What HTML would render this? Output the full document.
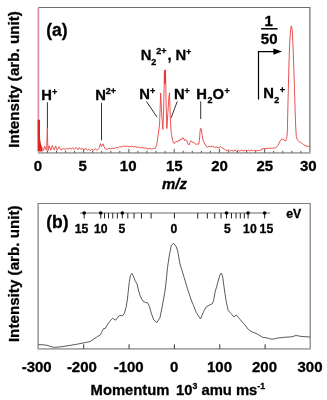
<!DOCTYPE html>
<html><head><meta charset="utf-8"><style>
html,body{margin:0;padding:0;background:#fff;}
body{width:327px;height:400px;overflow:hidden;}
svg{display:block;}
text{font-family:"Liberation Sans",Arial,sans-serif;font-weight:bold;fill:#000;stroke:#000;stroke-width:0.3px;}
</style></head><body>
<svg width="327" height="400" viewBox="0 0 327 400">
<rect width="327" height="400" fill="#fff"/>
<!-- top panel -->
<path d="M38.4 7.5 H309.9 V152.8" fill="none" stroke="#6e6e6e" stroke-width="1.2"/>
<path d="M37.8 152.8 H310.5" fill="none" stroke="#a8a8a8" stroke-width="1.7"/>
<path d="M47.45 152.8 V150.8 M56.5 152.8 V150.8 M65.55 152.8 V150.8 M74.6 152.8 V150.8 M83.65 152.8 V148.8 M92.7 152.8 V150.8 M101.75 152.8 V150.8 M110.8 152.8 V150.8 M119.85 152.8 V150.8 M128.9 152.8 V148.8 M137.95 152.8 V150.8 M147 152.8 V150.8 M156.05 152.8 V150.8 M165.1 152.8 V150.8 M174.15 152.8 V148.8 M183.2 152.8 V150.8 M192.25 152.8 V150.8 M201.3 152.8 V150.8 M210.35 152.8 V150.8 M219.4 152.8 V148.8 M228.45 152.8 V150.8 M237.5 152.8 V150.8 M246.55 152.8 V150.8 M255.6 152.8 V150.8 M264.65 152.8 V148.8 M273.7 152.8 V150.8 M282.75 152.8 V150.8 M291.8 152.8 V150.8 M300.85 152.8 V150.8" stroke="#555" stroke-width="1" fill="none"/>
<g stroke="#333" stroke-width="1" fill="none">
<path d="M47.4 102.2 V128.5"/>
<path d="M101.5 102.8 V140.3"/>
<path d="M146.4 101.4 L157.1 117.2"/>
<path d="M177.3 101.4 L171.1 117.9"/>
<path d="M200.7 101.4 V119"/>
</g>
<path d="M258.5 99.5 V51.6 H276" stroke="#000" stroke-width="1.2" fill="none"/>
<path d="M273.4 48.5 L282 51.6 L273.4 54.7 Z" fill="#000"/>
<path d="M261.1 28.8 H277.6" stroke="#000" stroke-width="1.5"/>
<line x1="38.4" y1="7.5" x2="38.4" y2="151" stroke="#d68a9c" stroke-width="1.6"/>
<path d="M37.6 119.8 H40 V139 L41.2 145 L42.4 147.5 V151.5 H37.7 Z" fill="#e02424"/>
<path d="M40.5 151 L41.5 148 L42.5 150.5 L43.5 150.2 L44.6 146 L45.8 149.5 L46.6 150.2 L47 140 L47.3 128.5 L47.6 140 L48.1 150.5 L49.2 145.8 L50.8 150.3 L52.3 145.6 L54.2 149.9 L55.7 146 L57.3 150.3 L59.2 146.6 L60.7 149.7 L62 149.77 L63.4 148.13 L64.74 149.74 L66.31 148.4 L68 149.06 L69.62 148.13 L70.98 149.15 L72.92 147.82 L74.38 149.12 L76.41 147.6 L78.01 149.78 L79.33 147.65 L80.84 149.37 L82.22 148.4 L84.15 149.73 L85.89 148.49 L87.47 150.37 L88.8 149.27 L90.25 150.73 L91.87 149.13 L93.62 150.45 L95.14 148.64 L96.98 150.19 L98.72 148.74 L99.4 147.5 L100.4 143.6 L101.5 146.6 L102.2 145.5 L103 143.8 L104.2 147 L105.5 149 L107.5 149.31 L109.1 148.12 L110.57 148.97 L112.57 148.23 L114.34 148.54 L116.27 147.46 L118.12 148.02 L119.75 146.57 L121.61 146.97 L123.36 145.88 L125.52 146.66 L127.45 146.03 L129.4 146.83 L131.61 146.01 L133.21 146.99 L135.14 146.6 L136.89 147.27 L138.35 147.02 L140.36 147.74 L141.93 147.38 L144.03 148.22 L145.78 147.82 L147.89 148.96 L149.98 148.33 L151.69 149.12 L153.8 148.4 L155.4 148.2 L156.8 144.5 L158.2 135 L159.6 124 L160.2 106 L160.7 93 L161.3 106 L161.9 117 L162.9 129.4 L163.7 108 L164.2 85 L164.4 72.5 L164.9 70.2 L165.5 72.5 L165.8 85 L166.2 108 L166.9 128.5 L167.9 112 L168.9 97 L169.5 92.8 L169.9 105 L170.3 118 L170.9 129 L171.5 134.5 L172.4 139.5 L173.3 142.5 L174.3 143.7 L175.3 142 L176.1 141.3 L177.3 142 L178.6 140.1 L179.5 141 L180.4 138.9 L181.6 139.5 L182.8 137.6 L183.8 139 L184.7 140.7 L185.6 139.5 L186.5 140.1 L187.8 143.5 L189 145 L190.2 142 L191.4 140.7 L192.6 142.5 L193.9 142.5 L195.2 144 L196.3 144.4 L197.5 143.8 L198.7 144.4 L199.5 139 L200.1 131 L200.6 128.5 L201.1 128.6 L201.6 131 L202.2 135.5 L202.8 139 L203.8 142 L204.9 144.4 L206 146.2 L207.3 147.4 L208.8 146.2 L210.5 146.8 L212.5 146.2 L214.6 147.4 L216.5 147 L218.8 148.1 L220.4 146.3 L221.6 147.5 L222.9 148.1 L224.2 149.2 L225.6 149.9 L227 150.6 L228.47 150.09 L230.13 151.03 L231.62 150.43 L233.24 151.16 L234.97 150.22 L236.8 151.29 L238.58 150.22 L239.9 151.35 L241.81 149.99 L243.72 150.95 L245.32 150.24 L247.11 150.74 L248.44 150.19 L249.85 150.88 L251.18 150.29 L252.58 150.76 L254.15 150.28 L256.13 151.01 L257.53 150.17 L259.08 150.89 L260.46 149.87 L261.4 150.3 L262.2 148.6 L265 148.8 L268.5 148.3 L272.5 148.2 L275.3 147.9 L276.8 146.8 L278 145.1 L279.2 143 L280.1 141 L281 139.6 L281.9 138.9 L283 139.3 L284.2 139.9 L285 141 L285.6 140.8 L286.4 138.8 L287 136.5 L287.4 130 L287.8 110 L288.3 90 L288.9 65 L289.6 45 L290.4 32 L291 27 L291.4 25.8 L291.8 27 L292.4 33 L293.1 48 L293.8 68 L294.5 90 L295.1 110 L295.6 125 L296.3 136.5 L297.2 139.5 L298.5 141.2 L300.5 142.3 L302 143.5 L303.6 144.6 L305 145.5 L306.8 146.2 L308.3 146.5 L309.3 146.2 L309.8 145.8" stroke="#e63f40" stroke-width="0.9" fill="none" stroke-linejoin="round"/>
<path d="M164.95 70.6 V83" stroke="#e02a2a" stroke-width="1.6" stroke-linecap="round"/>
<text x="46.2" y="35.7" font-size="17.5">(a)</text>
<text x="41.36" y="99.7" font-size="14.8">H</text>
<text x="52" y="94.6" font-size="9">+</text>
<text x="95.36" y="100" font-size="14.8">N</text>
<text x="105.7" y="93.5" font-size="9">2+</text>
<text x="140.66" y="59.8" font-size="14.8">N</text>
<text x="151.3" y="64.8" font-size="9">2</text>
<text x="156.2" y="54.2" font-size="9">2+</text>
<text x="167.4" y="59.8" font-size="14.8">, N</text>
<text x="186" y="55" font-size="9">+</text>
<text x="139.36" y="99.4" font-size="14.8">N</text>
<text x="149.9" y="94.2" font-size="9">+</text>
<text x="173.96" y="99.4" font-size="14.8">N</text>
<text x="184.6" y="94.2" font-size="9">+</text>
<text x="196.36" y="98.8" font-size="14.8">H</text>
<text x="207.4" y="102.5" font-size="9">2</text>
<text x="212.5" y="98.8" font-size="14.8">O</text>
<text x="224.5" y="93.6" font-size="9">+</text>
<text x="263.36" y="98.2" font-size="14.8">N</text>
<text x="274.2" y="102.6" font-size="9">2</text>
<text x="279.8" y="92.5" font-size="9">+</text>
<text x="268.6" y="25.6" font-size="15" text-anchor="middle">1</text>
<text x="269.2" y="44.4" font-size="15" text-anchor="middle">50</text>
<text x="38" y="170.8" font-size="15" text-anchor="middle">0</text>
<text x="82.6" y="170.8" font-size="15" text-anchor="middle">5</text>
<text x="128.2" y="170.8" font-size="15" text-anchor="middle">10</text>
<text x="174.3" y="170.8" font-size="15" text-anchor="middle">15</text>
<text x="219.6" y="170.8" font-size="15" text-anchor="middle">20</text>
<text x="264.8" y="170.8" font-size="15" text-anchor="middle">25</text>
<text x="308.3" y="170.8" font-size="15" text-anchor="middle">30</text>
<text x="174.4" y="188.8" font-size="15" text-anchor="middle" font-style="italic">m/z</text>
<text transform="translate(18.7 147.8) rotate(-90)" font-size="15.2">Intensity (arb. unit)</text>
<!-- bottom panel -->
<path d="M38.1 348.8 V203.5 H310.2 V348.8" fill="none" stroke="#7c7c7c" stroke-width="1.2"/>
<path d="M37.5 348.8 H310.8" fill="none" stroke="#a8a8a8" stroke-width="1.7"/>
<path d="M83.7 348.8 V344.3 M129.05 348.8 V344.3 M174.4 348.8 V344.3 M219.75 348.8 V344.3 M265.1 348.8 V344.3" stroke="#333" stroke-width="1" fill="none"/>
<path d="M79.9 213.0 H270.2" stroke="#6a6a6a" stroke-width="1.2"/>
<path d="M151.1 213 V218.5 M141.45 213 V218.5 M134.04 213 V218.5 M127.8 213 V218.5 M122.3 213 V218.5 M117.33 213 V218.5 M112.75 213 V218.5 M108.5 213 V218.5 M104.5 213 V218.5 M100.72 213 V218.5 M84.16 213 V218.5 M197.7 213 V218.5 M207.35 213 V218.5 M214.76 213 V218.5 M221 213 V218.5 M226.5 213 V218.5 M231.47 213 V218.5 M236.05 213 V218.5 M240.3 213 V218.5 M244.3 213 V218.5 M248.08 213 V218.5 M264.64 213 V218.5 M174.4 213 V218.5" stroke="#222" stroke-width="1" fill="none"/>
<g fill="#000"><circle cx="122.3" cy="213" r="1.8"/><circle cx="100.72" cy="213" r="1.8"/><circle cx="84.16" cy="213" r="1.8"/><circle cx="226.5" cy="213" r="1.8"/><circle cx="248.08" cy="213" r="1.8"/><circle cx="264.64" cy="213" r="1.8"/></g>
<path d="M38.4 344.6 L43 344.8 L47 345.3 L50.5 346.5 L54.3 347.4 L58 347.1 L62 346.6 L69 345.6 L76.4 344.3 L83.7 342.9 L90 341.6 L93.7 339.1 L97.3 336.7 L100.4 334.9 L102.2 331.2 L103.5 328.7 L105.3 328.4 L107.1 325.1 L109.6 321.4 L112.6 318.3 L115.7 320.2 L119.4 315.3 L122.4 315.9 L124.3 313.5 L126.1 307.3 L127.3 300 L128.1 293 L129.2 282.5 L130.5 275.4 L131.9 273.4 L133.1 275.4 L135 280.4 L136.9 283.75 L138.75 291.25 L140.6 296.9 L143.1 301.25 L145.4 302.5 L147.4 302.6 L149.4 306.25 L151.25 313.1 L153.75 320 L156.9 322.5 L160 317.5 L162.5 305 L164.75 292.5 L166.1 282 L167.5 267.5 L169.4 255 L171.25 245.6 L173.1 243.4 L174.8 244.6 L176.25 246.9 L177.75 251.25 L180 264 L183.75 276.25 L187.5 288.75 L191.25 300 L193.5 305.5 L196.25 312.5 L198.5 316 L200.6 319 L202.2 315 L203.75 311.25 L206.25 306.9 L210 304.75 L212.4 303.6 L213.6 300.5 L215 292.5 L218.1 281.25 L220 275 L221.25 273.1 L222.5 275.6 L223.75 285 L225 293.75 L226.4 302.5 L228.25 310.6 L230.75 313.1 L233.9 316.9 L236.4 315 L239.5 318.75 L242.6 322.5 L245.1 325 L248.25 329.4 L252 331.9 L255 333 L258.4 334.7 L262.7 337.3 L267.8 338.1 L272.1 339.3 L277.3 338.1 L284.1 337.3 L291 336.9 L296.1 335.5 L301.2 336.4 L308.1 336.9 L310 337" stroke="#3c3c3c" stroke-width="0.85" fill="none" stroke-linejoin="round"/>
<text x="46.2" y="228.2" font-size="17.5">(b)</text>
<text x="81.6" y="232.6" font-size="12.2" text-anchor="middle">15</text>
<text x="100.7" y="232.6" font-size="12.2" text-anchor="middle">10</text>
<text x="121.8" y="232.6" font-size="12.2" text-anchor="middle">5</text>
<text x="174" y="232.6" font-size="12.2" text-anchor="middle">0</text>
<text x="227.4" y="232.6" font-size="12.2" text-anchor="middle">5</text>
<text x="249.9" y="232.6" font-size="12.2" text-anchor="middle">10</text>
<text x="266.4" y="232.6" font-size="12.2" text-anchor="middle">15</text>
<text x="286.2" y="218" font-size="12.3">eV</text>
<text x="36.7" y="372.3" font-size="15" text-anchor="middle">-300</text>
<text x="81.9" y="372.3" font-size="15" text-anchor="middle">-200</text>
<text x="128.7" y="372.3" font-size="15" text-anchor="middle">-100</text>
<text x="174.2" y="372.3" font-size="15" text-anchor="middle">0</text>
<text x="219.5" y="372.3" font-size="15" text-anchor="middle">100</text>
<text x="264.5" y="372.3" font-size="15" text-anchor="middle">200</text>
<text x="310" y="372.3" font-size="15" text-anchor="middle">300</text>
<text transform="translate(90.6 394.7) scale(0.973 1)" font-size="15.2">Momentum <tspan dx="2.6">10</tspan><tspan font-size="9" dy="-5.5">3</tspan><tspan dy="5.5"> amu ms</tspan><tspan font-size="9" dy="-5.5">-1</tspan></text>
<text transform="translate(18.7 342.1) rotate(-90)" font-size="15.2">Intensity (arb. unit)</text>
</svg>
</body></html>
